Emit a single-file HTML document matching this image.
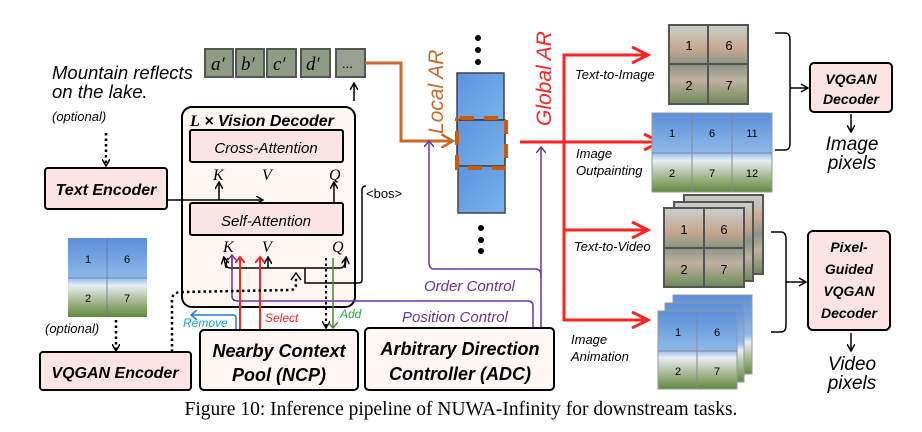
<!DOCTYPE html>
<html><head><meta charset="utf-8"><style>
html,body{margin:0;padding:0;background:#fff;}
svg{display:block;}
text{font-family:"Liberation Sans",sans-serif;}
.it{font-style:italic;}
.bi{font-style:italic;font-weight:bold;}
.ser{font-family:"Liberation Serif",serif;font-style:italic;}
</style></head><body>
<svg width="922" height="432" viewBox="0 0 922 432" xmlns="http://www.w3.org/2000/svg">
<defs>
<linearGradient id="sky" x1="0" y1="0" x2="0" y2="1">
<stop offset="0" stop-color="#5b8fd8"/><stop offset="0.5" stop-color="#8db8e8"/><stop offset="0.6" stop-color="#e8eef4"/><stop offset="0.8" stop-color="#a8b890"/><stop offset="1" stop-color="#5e8a3e"/></linearGradient>
<linearGradient id="lake" x1="0" y1="0" x2="0" y2="1">
<stop offset="0" stop-color="#c8d0cc"/><stop offset="0.3" stop-color="#c8a890"/><stop offset="0.5" stop-color="#8a9488"/><stop offset="0.7" stop-color="#c0b0a0"/><stop offset="1" stop-color="#6e8a58"/></linearGradient>
<linearGradient id="blu" x1="0" y1="0" x2="1" y2="1"><stop offset="0" stop-color="#5d92df"/><stop offset="1" stop-color="#7ab3ea"/></linearGradient>
<marker id="ab" markerWidth="8" markerHeight="8" refX="6" refY="4" orient="auto" markerUnits="userSpaceOnUse"><path d="M0,0 L7,4 L0,8" fill="none" stroke="#000" stroke-width="1.5"/></marker>
<marker id="ar" markerWidth="22" markerHeight="18" refX="18" refY="9" orient="auto" markerUnits="userSpaceOnUse"><path d="M2,1 L18,9 L2,17" fill="none" stroke="#f22" stroke-width="3"/></marker>
<marker id="ars" markerWidth="10" markerHeight="10" refX="5" refY="5" orient="auto" markerUnits="userSpaceOnUse"><path d="M0,0 L6,5 L0,10" fill="none" stroke="#f22" stroke-width="2"/></marker>
<marker id="ap" markerWidth="10" markerHeight="10" refX="5" refY="5" orient="auto" markerUnits="userSpaceOnUse"><path d="M0,0 L6,5 L0,10" fill="none" stroke="#7030a0" stroke-width="1.5"/></marker>
<marker id="ao" markerWidth="14" markerHeight="14" refX="11" refY="7" orient="auto" markerUnits="userSpaceOnUse"><path d="M0,0 L12,7 L0,14" fill="none" stroke="#c96a2a" stroke-width="2.5"/></marker>
<marker id="ag" markerWidth="10" markerHeight="10" refX="5" refY="5" orient="auto" markerUnits="userSpaceOnUse"><path d="M0,0 L6,5 L0,10" fill="none" stroke="#4a8a2a" stroke-width="1.5"/></marker>
<marker id="abl" markerWidth="10" markerHeight="10" refX="5" refY="5" orient="auto" markerUnits="userSpaceOnUse"><path d="M0,0 L6,5 L0,10" fill="none" stroke="#1a80d0" stroke-width="1.5"/></marker>
</defs>

<g stroke="#555" stroke-width="2" fill="#8e9c86">
<rect x="205" y="49" width="28" height="28"/><rect x="236" y="49" width="28" height="28"/><rect x="267" y="49" width="29" height="28"/><rect x="301" y="49" width="29" height="28"/><rect x="336" y="49" width="29" height="28" fill="#9aa090"/></g>
<g font-size="19" class="ser"><text x="211" y="70" class="ser">a′</text><text x="241" y="70" class="ser">b′</text><text x="273" y="70" class="ser">c′</text><text x="306" y="70" class="ser">d′</text></g>
<text x="342" y="68" font-size="13">...</text>
<polyline points="365,63 401,63 401,141 452,141" fill="none" stroke="#c96a2a" stroke-width="3" marker-end="url(#ao)"/>
<line x1="354" y1="101" x2="354" y2="84" stroke="#000" stroke-width="1.5" marker-end="url(#ab)"/>

<text x="52" y="79" font-size="18.5" class="it">Mountain reflects</text>
<text x="52" y="98" font-size="18.5" class="it">on the lake.</text>
<text x="52" y="121" font-size="13" class="it">(optional)</text>
<line x1="106" y1="133" x2="106" y2="165" stroke="#000" stroke-width="2.5" stroke-dasharray="2.5,3" marker-end="url(#ab)"/>

<rect x="45" y="168" width="122" height="41" rx="3" fill="#fce4e4" stroke="#000" stroke-width="2"/>
<text x="106" y="195" font-size="16" class="bi" text-anchor="middle">Text Encoder</text>

<rect x="182" y="107" width="173" height="200" rx="10" fill="#fdf6f3" stroke="#000" stroke-width="2"/>
<text x="190" y="126" font-size="16" class="bi"><tspan font-family="Liberation Serif">L</tspan> × Vision Decoder</text>
<rect x="190" y="130" width="153" height="32" rx="2" fill="#fce4e4" stroke="#000" stroke-width="2"/>
<text x="266" y="153" font-size="15" class="it" text-anchor="middle">Cross-Attention</text>
<rect x="190" y="203" width="153" height="32" rx="2" fill="#fce4e4" stroke="#000" stroke-width="2"/>
<text x="266" y="226" font-size="15" class="it" text-anchor="middle">Self-Attention</text>
<g font-size="16" class="ser"><text x="213" y="180" class="ser">K</text><text x="262" y="180" class="ser">V</text><text x="329" y="180" class="ser">Q</text>
<text x="223" y="252" class="ser">K</text><text x="262" y="252" class="ser">V</text><text x="332" y="252" class="ser">Q</text></g>
<polyline points="167,200 262,200 Q268,200 268,193 L268,184" fill="none" stroke="#000" stroke-width="1.5" marker-end="url(#ab)"/>
<line x1="219" y1="200" x2="219" y2="183" stroke="#000" stroke-width="1.5" marker-end="url(#ab)"/>
<line x1="334" y1="203" x2="334" y2="183" stroke="#000" stroke-width="1.5" marker-end="url(#ab)"/>
<path d="M366,186 Q362,186 362,190 L362,280 Q362,283 358,283 L305,283 L305,268" fill="none" stroke="#000" stroke-width="1.5"/>
<text x="366" y="198" font-size="13">&lt;bos&gt;</text>
<path d="M228,258 Q224,268 230,268 L340,268 Q346,268 345,258" fill="none" stroke="#000" stroke-width="1.5"/>
<line x1="226" y1="268" x2="224" y2="258" stroke="#000" stroke-width="1.5" marker-end="url(#ab)"/>
<line x1="268" y1="268" x2="268" y2="258" stroke="#000" stroke-width="1.5" marker-end="url(#ab)"/>
<line x1="345" y1="268" x2="346" y2="258" stroke="#000" stroke-width="1.5" marker-end="url(#ab)"/>
<path d="M232,258 L232,296 Q232,301 238,301 L528,301 Q533,301 533,306 L533,328" fill="none" stroke="#7030a0" stroke-width="1.5"/>
<line x1="232" y1="270" x2="232" y2="256" stroke="#7030a0" stroke-width="1.5" marker-end="url(#ap)"/>
<path d="M541,330 L541,148" fill="none" stroke="#7030a0" stroke-width="1.5" marker-end="url(#ap)"/>
<path d="M541,278 L541,275 Q541,269 535,269 L434,269 Q429,269 429,262 L429,142" fill="none" stroke="#7030a0" stroke-width="1.5" marker-end="url(#ap)"/>
<text x="424" y="291" font-size="15" class="it" fill="#7030a0">Order Control</text>
<text x="402" y="322" font-size="15" class="it" fill="#7030a0">Position Control</text>
<line x1="240" y1="330" x2="240" y2="258" stroke="#f22" stroke-width="2" marker-end="url(#ars)"/>
<line x1="260" y1="330" x2="260" y2="258" stroke="#f22" stroke-width="2" marker-end="url(#ars)"/>
<text x="265" y="322" font-size="12" class="it" fill="#f22">Select</text>
<path d="M172,352 L172,300 Q172,292 182,292 L290,290 Q296,290 296,284 L296,276" fill="none" stroke="#000" stroke-width="2.5" stroke-dasharray="2.5,3"/>
<path d="M291,280 L296,273 L301,280" fill="none" stroke="#000" stroke-width="1.5"/>
<line x1="326" y1="258" x2="326" y2="327" stroke="#000" stroke-width="2" stroke-dasharray="2.5,3" marker-end="url(#ab)"/>
<line x1="333" y1="258" x2="333" y2="327" stroke="#4a8a2a" stroke-width="1.5" marker-end="url(#ag)"/>
<text x="340" y="318" font-size="12" class="it" fill="#22b040">Add</text>
<path d="M236,330 L236,318 Q236,315 233,315 L192,315" fill="none" stroke="#1a80d0" stroke-width="1.5" marker-end="url(#abl)"/>
<text x="183" y="327" font-size="12" class="it" fill="#1aa0e0">Remove</text>

<rect x="200" y="330" width="158" height="60" rx="4" fill="#fdf6f3" stroke="#000" stroke-width="2"/>
<text x="279" y="357" font-size="18" class="bi" text-anchor="middle">Nearby Context</text>
<text x="279" y="381" font-size="18" class="bi" text-anchor="middle">Pool (NCP)</text>
<rect x="365" y="328" width="189" height="62" rx="4" fill="#fdf6f3" stroke="#000" stroke-width="2"/>
<text x="460" y="355" font-size="18" class="bi" text-anchor="middle">Arbitrary Direction</text>
<text x="460" y="380" font-size="18" class="bi" text-anchor="middle">Controller (ADC)</text>

<rect x="68" y="238" width="79" height="79" fill="url(#sky)"/>
<line x1="107" y1="238" x2="107" y2="317" stroke="#5a7aa0" stroke-width="0.8"/><line x1="68" y1="278" x2="147" y2="278" stroke="#5a7aa0" stroke-width="0.8"/>
<g font-size="11" text-anchor="middle"><text x="88" y="263">1</text><text x="127" y="263">6</text><text x="88" y="302">2</text><text x="127" y="302">7</text></g>
<text x="45" y="333" font-size="13" class="it">(optional)</text>
<line x1="116" y1="320" x2="116" y2="350" stroke="#000" stroke-width="2.5" stroke-dasharray="2.5,3" marker-end="url(#ab)"/>
<rect x="40" y="352" width="151" height="38" rx="3" fill="#fce4e4" stroke="#000" stroke-width="2"/>
<text x="115" y="378" font-size="16" class="bi" text-anchor="middle">VQGAN Encoder</text>

<g fill="#000"><circle cx="478" cy="38" r="3"/><circle cx="478" cy="50" r="3"/><circle cx="478" cy="62" r="3"/><circle cx="481" cy="228" r="3"/><circle cx="481" cy="240" r="3"/><circle cx="481" cy="251" r="3"/></g>
<rect x="457" y="73" width="47" height="47" fill="url(#blu)" stroke="#444" stroke-width="1.5"/>
<rect x="457" y="120" width="48" height="46" fill="url(#blu)" stroke="#333" stroke-width="1.5"/>
<rect x="458" y="166" width="47" height="47" fill="url(#blu)" stroke="#444" stroke-width="1.5"/>
<rect x="457" y="118" width="49" height="50" fill="none" stroke="#c95a10" stroke-width="4" stroke-dasharray="14,10" stroke-dashoffset="-3"/>
<text transform="translate(443,134) rotate(-90)" font-size="21" class="it" fill="#c96a2a">Local AR</text>
<text transform="translate(551,126) rotate(-90)" font-size="21" class="it" fill="#f22">Global AR</text>

<line x1="520" y1="142" x2="660" y2="142" stroke="#f22" stroke-width="3" marker-end="url(#ar)"/>
<polyline points="646,55 564,55 564,320 646,320" fill="none" stroke="#f22" stroke-width="3"/>
<line x1="564" y1="55" x2="648" y2="55" stroke="#f22" stroke-width="3" marker-end="url(#ar)"/>
<line x1="564" y1="320" x2="648" y2="320" stroke="#f22" stroke-width="3" marker-end="url(#ar)"/>
<line x1="564" y1="230" x2="648" y2="230" stroke="#f22" stroke-width="3" marker-end="url(#ar)"/>
<g font-size="13" class="it"><text x="575" y="79" class="it">Text-to-Image</text><text x="576" y="158" class="it">Image</text><text x="576" y="175" class="it">Outpainting</text><text x="574" y="251" class="it">Text-to-Video</text><text x="571" y="344" class="it">Image</text><text x="571" y="361" class="it">Animation</text></g>

<g font-size="13" text-anchor="middle">
<rect x="669" y="25" width="79" height="79" fill="url(#lake)" stroke="#555" stroke-width="2"/>
<line x1="708" y1="25" x2="708" y2="104" stroke="#555" stroke-width="2"/><line x1="669" y1="64" x2="748" y2="64" stroke="#555" stroke-width="2"/>
<text x="689" y="50">1</text><text x="729" y="50">6</text><text x="689" y="90">2</text><text x="729" y="90">7</text>
<rect x="652" y="113" width="120" height="79" fill="url(#sky)" stroke="#999" stroke-width="1"/>
<line x1="692" y1="113" x2="692" y2="192" stroke="#889" /><line x1="732" y1="113" x2="732" y2="192" stroke="#889"/><line x1="652" y1="153" x2="772" y2="153" stroke="#889"/>
<text x="672" y="137" font-size="11">1</text><text x="712" y="137" font-size="11">6</text><text x="752" y="137" font-size="11">11</text><text x="672" y="177" font-size="11">2</text><text x="712" y="177" font-size="11">7</text><text x="752" y="177" font-size="11">12</text>
<rect x="684" y="195" width="79" height="79" fill="url(#lake)" stroke="#555" stroke-width="2"/>
<rect x="674" y="202" width="79" height="79" fill="url(#lake)" stroke="#555" stroke-width="2"/>
<rect x="664" y="208" width="80" height="79" fill="url(#lake)" stroke="#555" stroke-width="2"/>
<line x1="704" y1="208" x2="704" y2="287" stroke="#555" stroke-width="2"/><line x1="664" y1="248" x2="744" y2="248" stroke="#555" stroke-width="2"/>
<text x="684" y="234">1</text><text x="724" y="234">6</text><text x="684" y="274">2</text><text x="724" y="274">7</text>
<rect x="673" y="295" width="79" height="79" fill="url(#sky)" stroke="#999"/>
<rect x="665" y="303" width="79" height="79" fill="url(#sky)" stroke="#999"/>
<rect x="658" y="311" width="79" height="78" fill="url(#sky)" stroke="#999"/>
<line x1="697" y1="311" x2="697" y2="389" stroke="#889"/><line x1="658" y1="351" x2="737" y2="351" stroke="#889"/>
<text x="678" y="336" font-size="11">1</text><text x="717" y="336" font-size="11">6</text><text x="678" y="375" font-size="11">2</text><text x="717" y="375" font-size="11">7</text>
</g>
<path d="M775,33 L785,33 Q790,33 790,40 L790,143 Q790,150 785,150 L775,150 M790,88 L807,88" fill="none" stroke="#000" stroke-width="1.5"/>
<path d="M801,84 L808,88 L801,92" fill="none" stroke="#000" stroke-width="1.5"/>
<path d="M771,232 L781,232 Q786,232 786,239 L786,325 Q786,332 781,332 L771,332 M786,282 L805,282" fill="none" stroke="#000" stroke-width="1.5"/>
<path d="M799,278 L806,282 L799,286" fill="none" stroke="#000" stroke-width="1.5"/>
<rect x="810" y="63" width="82" height="49" rx="4" fill="#fce4e4" stroke="#000" stroke-width="2"/>
<text x="851" y="84" font-size="14" class="bi" text-anchor="middle">VQGAN</text>
<text x="851" y="104" font-size="14" class="bi" text-anchor="middle">Decoder</text>
<line x1="851" y1="114" x2="851" y2="131" stroke="#000" stroke-width="1.5" marker-end="url(#ab)"/>
<text x="852" y="150" font-size="19" class="it" text-anchor="middle">Image</text>
<text x="852" y="169" font-size="19" class="it" text-anchor="middle">pixels</text>
<rect x="808" y="231" width="82" height="99" rx="5" fill="#fce4e4" stroke="#000" stroke-width="2"/>
<g font-size="14" class="bi" text-anchor="middle"><text x="849" y="252" class="bi">Pixel-</text><text x="849" y="274" class="bi">Guided</text><text x="849" y="296" class="bi">VQGAN</text><text x="849" y="318" class="bi">Decoder</text></g>
<line x1="851" y1="333" x2="851" y2="350" stroke="#000" stroke-width="1.5" marker-end="url(#ab)"/>
<text x="852" y="370" font-size="19" class="it" text-anchor="middle">Video</text>
<text x="852" y="389" font-size="19" class="it" text-anchor="middle">pixels</text>

<text x="461" y="415" font-size="19.5" text-anchor="middle" style="font-family:'Liberation Serif',serif">Figure 10: Inference pipeline of NUWA-Infinity for downstream tasks.</text>
</svg>
</body></html>
